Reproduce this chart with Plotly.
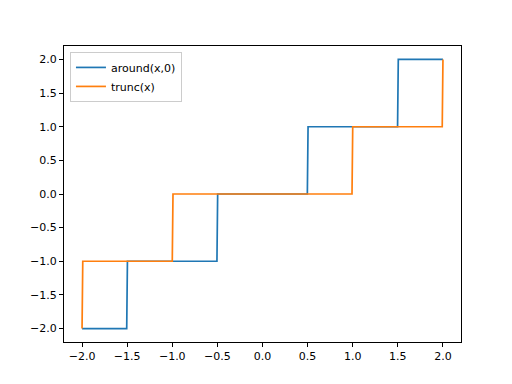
import plotly.graph_objects as go

# Vertices of the step curves
around_x = [-2.0, -1.505, -1.497, -0.505, -0.497, 0.497, 0.505, 1.497, 1.505, 2.0]
around_y = [-2, -2, -1, -1, 0, 0, 1, 1, 2, 2]
trunc_x = [-2.0, -1.992, -1.0, -0.992, 0.992, 1.0, 1.992, 2.0]
trunc_y = [-2, -1, -1, 0, 0, 1, 1, 2]

tick_vals = [-2.0, -1.5, -1.0, -0.5, 0.0, 0.5, 1.0, 1.5, 2.0]
tick_text = ["\u22122.0", "\u22121.5", "\u22121.0", "\u22120.5", "0.0", "0.5", "1.0", "1.5", "2.0"]

fig = go.Figure()
fig.add_trace(go.Scatter(x=around_x, y=around_y, mode="lines", name="around(x,0)",
                         line=dict(color="#1f77b4", width=1.7)))
fig.add_trace(go.Scatter(x=trunc_x, y=trunc_y, mode="lines", name="trunc(x)",
                         line=dict(color="#ff7f0e", width=1.7)))

axis_common = dict(showgrid=False, zeroline=False, showline=True, linecolor="black",
                   linewidth=1, mirror=True, ticks="outside", ticklen=4, tickwidth=1,
                   tickcolor="black", tickvals=tick_vals, ticktext=tick_text,
                   tickfont=dict(family="DejaVu Sans", size=11, color="black"))

fig.update_layout(
    width=512, height=384,
    margin=dict(l=64, r=51, t=46, b=42),
    paper_bgcolor="white", plot_bgcolor="white",
    xaxis=dict(range=[-2.2, 2.2], **axis_common),
    yaxis=dict(range=[-2.2, 2.2], **axis_common),
    showlegend=True,
    legend=dict(x=0.015, y=0.98, xanchor="left", yanchor="top",
                bgcolor="rgba(255,255,255,0.8)", bordercolor="#cccccc", borderwidth=1,
                font=dict(family="DejaVu Sans", size=11, color="black"),
                tracegroupgap=0, itemwidth=30),
)

fig.write_html("out.html", config={"displayModeBar": False},
               post_script="document.body.style.margin='0';")
